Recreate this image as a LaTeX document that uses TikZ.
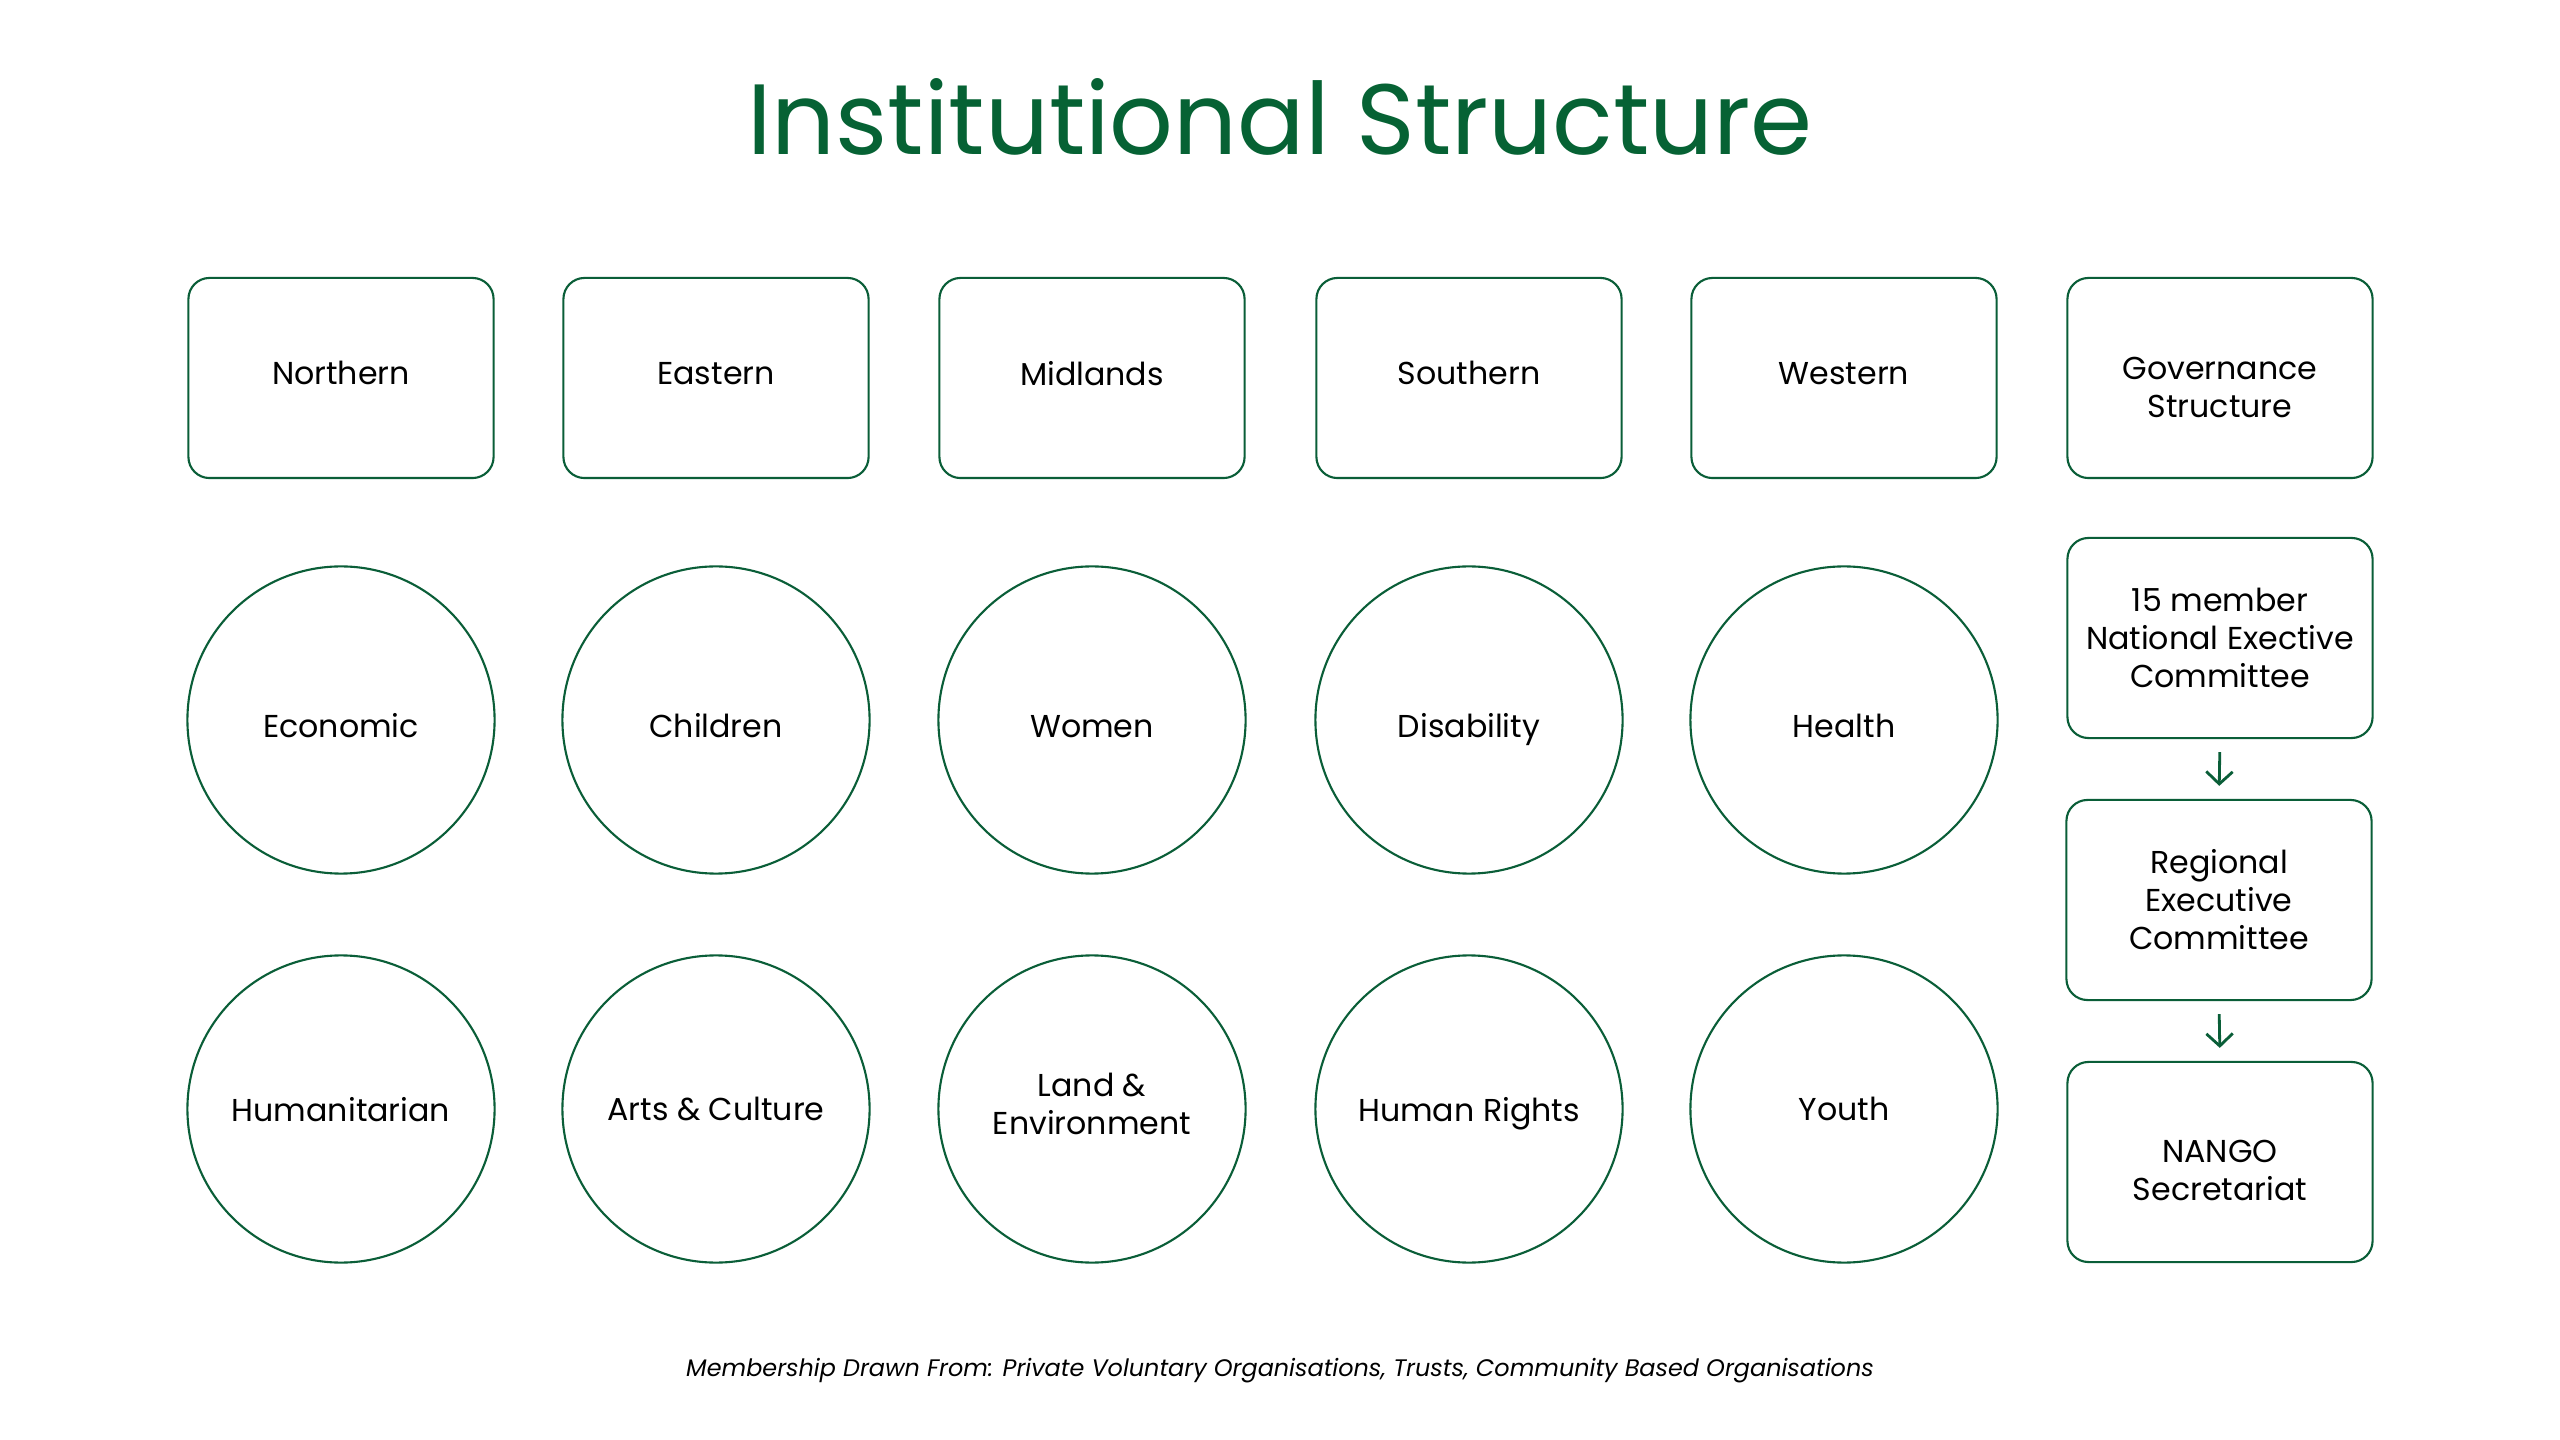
\documentclass[tikz,border=0pt]{standalone}
\usepackage{fontspec}
\setmainfont{Poppins}
\usetikzlibrary{positioning,arrows.meta,shapes}
\definecolor{nangogreen}{RGB}{10,94,56}
\definecolor{titlegreen}{RGB}{6,98,52}

\begin{document}
\begin{tikzpicture}[x=0.01cm, y=-0.01cm,
  region/.style={rectangle, draw=nangogreen, line width=0.6pt, rounded corners=6pt,
                 font=\fontsize{9}{10.8}\selectfont, minimum width=3.05cm, minimum height=2.0cm, align=center},
  sector/.style={circle, draw=nangogreen, line width=0.6pt, inner sep=0pt,
                 font=\fontsize{9}{10.8}\selectfont, minimum size=3.07cm, align=center},
  ar/.style={-{Straight Barb[length=3.5pt, width=7.5pt]}, nangogreen, line width=0.8pt,
             shorten <=0.13cm, shorten >=0.13cm},
]
\useasboundingbox[fill=white] (0,0) rectangle (2560,1440);

\node[anchor=base, text=titlegreen, font=\fontsize{28.4}{34}\selectfont] (title) at (1280,155)
    {Institutional Structure};

% regions
\node[region, text depth=2.8pt] (north) at ( 341,378) {Northern};
\node[region, text depth=2.8pt] (east)  at ( 716,378) {Eastern};
\node[region, text depth=2.8pt] (mid)   at (1092,378) {Midlands};
\node[region, text depth=2.8pt] (south) at (1469,378) {Southern};
\node[region, text depth=2.8pt] (west)  at (1844,378) {Western};
\node[region, text height=22.3pt] (gov) at (2220,378) {Governance\\Structure};

% sectors
\node[sector, text height=10pt, text depth=0pt] (econ)  at ( 341,720) {Economic};
\node[sector, text height=10pt, text depth=0pt] (child) at ( 716,720) {Children};
\node[sector, text height=10pt, text depth=0pt] (women) at (1092,720) {Women};
\node[sector, text height=10pt, text depth=0pt] (dis)   at (1469,720) {Disability};
\node[sector, text height=10pt, text depth=0pt] (hlth)  at (1844,720) {Health};

\node[sector, text depth=0pt]   (hum)   at ( 341,1109) {Humanitarian};
\node[sector, text depth=0pt]   (arts)  at ( 716,1109) {Arts \& Culture};
\node[sector, text depth=2.8pt] (land)  at (1092,1109) {Land \&\\Environment};
\node[sector, text depth=0pt]   (hr)    at (1469,1109) {Human Rights};
\node[sector, text depth=0pt]   (youth) at (1844,1109) {Youth};

% governance chain
\node[region] (nec) at (2220, 638) {15 member\\National Exective\\Committee};
\node[region] (rec) at (2219, 900) {Regional\\Executive\\Committee};
\node[region, text height=21.8pt] (sec) at (2220,1162) {NANGO\\Secretariat};

\draw[ar] (nec.south) -- (rec.north);
\draw[ar] (rec.south) -- (sec.north);

\node[anchor=base, font=\fontsize{6.8}{8}\selectfont\itshape] (foot) at (1280,1376)
    {Membership Drawn From: Private Voluntary Organisations, Trusts, Community Based Organisations};
\end{tikzpicture}
\end{document}
